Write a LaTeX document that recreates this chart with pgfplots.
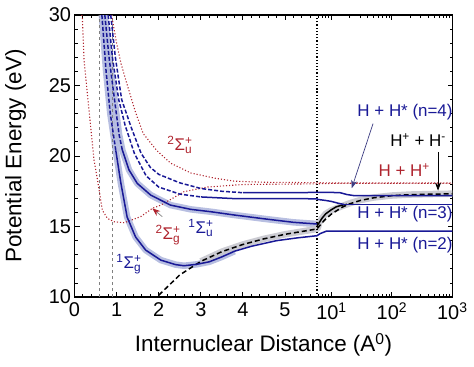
\documentclass[border=0pt]{standalone}
\usepackage{fontspec}
\setmainfont{Liberation Sans}
\usepackage{pgfplots}
\pgfplotsset{compat=1.18}
\usetikzlibrary{arrows.meta}
\definecolor{myblue}{RGB}{25,25,150}
\definecolor{myred}{RGB}{175,35,45}
\definecolor{bandc}{RGB}{176,184,222}
\definecolor{bandg}{RGB}{198,198,206}
\definecolor{arrblue}{RGB}{60,60,130}
\begin{document}
\begin{tikzpicture}
\begin{axis}[name=ax, scale only axis, width=378bp, height=282bp,
  xmin=0, xmax=8.98, ymin=10, ymax=30,
  x filter/.expression={x<5.76 ? x : 5.76+(0.6232126*ln(x)-1.0912027)},
  xtick={0,1,2,3,4,5,6.104,7.539,8.974},
  xticklabels={0,1,2,3,4,5,10\textsuperscript{1},10\textsuperscript{2},10\textsuperscript{3}},
  minor xtick={0.2,0.4,0.6,0.8,1.2,1.4,1.6,1.8,2.2,2.4,2.6,2.8,3.2,3.4,3.6,3.8,4.2,4.4,4.6,4.8,5.2,5.4,5.6,
    5.785,5.882,5.965,6.038,6.536,6.789,6.968,7.107,7.221,7.317,7.400,7.473,
    7.971,8.224,8.403,8.542,8.656,8.752,8.835,8.908},
  ytick={10,15,20,25,30},
  minor ytick={11,12,13,14,16,17,18,19,21,22,23,24,26,27,28,29},
  tick align=inside, major tick length=5bp, minor tick length=3bp,
  axis line style={line width=1.2bp}, every tick/.style={black, line width=0.9bp},
  /pgf/number format/assume math mode=true,
  tick label style={font=\fontsize{20}{22}\selectfont},
  xticklabel style={yshift=-2bp},
  xlabel={Internuclear Distance (A\textsuperscript{0})},
  ylabel={Potential Energy (eV)},
  every axis x label/.style={at={(axis description cs:0.5,0)}, anchor=center, yshift=-48bp, font=\fontsize{22.5}{24}\selectfont},
  every axis y label/.style={at={(axis description cs:0,0.5)}, xshift=-59bp, rotate=90, anchor=center, font=\fontsize{22.5}{24}\selectfont},
  clip=true,
]
% bands
\addplot[bandc, line width=6.5bp, opacity=0.9, line join=round] coordinates {(0.65,30) (0.75,26) (0.85,23) (0.98,20.4) (1.10,18.1) (1.25,15.67) (1.45,14.26) (1.69,13.33) (2.05,12.62) (2.4,12.3) (2.6,12.22) (2.9,12.32) (3.2,12.5) (3.5,12.85) (3.8,13.25)};
\addplot[bandc, line width=6.5bp, opacity=0.9, line join=round] coordinates {(0.72,30) (0.82,27) (0.95,24) (1.06,21.5) (1.135,20.43) (1.295,19.01) (1.49,18.06) (1.81,17.23) (2.28,16.52) (2.76,16.22) (3.24,16.05) (3.79,15.82) (4.5,15.55) (5.2,15.3) (5.76,15.18)};
\addplot[bandg, line width=6.5bp, opacity=0.9, line join=round] coordinates {(3.0,12.53) (3.5,13.22) (4,13.73) (4.5,14.13) (5,14.45) (5.76,14.83) (6,14.95) (6.2,15.25) (7,15.6) (8,15.9) (10,16.15) (15,16.45) (20,16.65) (30,16.88) (50,17.06) (100,17.2) (200,17.27) (500,17.31) (1000,17.33)};
% vertical guides
\addplot[gray, dashed, line width=0.8bp] coordinates {(0.6,10) (0.6,30)};
\addplot[gray, dashed, line width=0.8bp] coordinates {(0.9,10) (0.9,30)};
\addplot[black, dotted, line width=1.2bp] coordinates {(5.76,10) (5.76,30)};
% red dotted 2Sigma_g+
\addplot[myred, dotted, line width=1.1bp] coordinates {(0.17,30) (0.185,29.9) (0.226,26.8) (0.344,23.26) (0.463,19.72) (0.56,18.06) (0.66,16.17) (0.78,15.58) (0.94,15.34) (1.18,15.27) (1.57,15.7) (1.85,16.29) (2.05,16.52) (2.6,17.47) (3.15,17.8) (4,17.98) (5.76,18.03) (10,18.06) (1000,18.06)};
% red dotted 2Sigma_u+
\addplot[myred, dotted, line width=1.1bp] coordinates {(0.88,30) (1.0,28) (1.1,26.6) (1.24,25.16) (1.45,23.1) (1.63,21.6) (1.95,20.4) (2.28,19.5) (2.76,18.8) (3.31,18.44) (3.79,18.22) (4.5,18.14) (5.76,18.11) (10,18.09) (1000,18.09)};
% Coulomb H+ + H-
\addplot[black, dash pattern=on 5bp off 3bp, line width=1.5bp] coordinates {(2.0,10.13) (2.5,11.57) (3,12.53) (3.5,13.22) (4,13.73) (4.5,14.13) (5,14.45) (5.76,14.83) (6,14.93) (7,15.27) (8,15.53) (10,15.89) (15,16.37) (20,16.61) (30,16.85) (50,17.04) (100,17.19) (200,17.26) (500,17.30) (1000,17.32)};
% 1Sigma_g+
\addplot[myblue, dash pattern=on 4bp off 2bp, line width=1.5bp] coordinates {(0.65,30) (0.75,26) (0.85,23) (0.98,20.4)};
\addplot[myblue, line width=1.5bp] coordinates {(0.98,20.4) (1.10,18.1) (1.25,15.67) (1.45,14.26) (1.69,13.33) (2.05,12.62) (2.4,12.3) (2.6,12.22) (2.9,12.32) (3.2,12.5) (3.5,12.85) (3.8,13.25) (4.2,13.6) (4.8,14.0) (5.3,14.2) (5.76,14.35) (6.5,14.5) (8.3,14.68) (1000,14.68)};
% 1Sigma_u+
\addplot[myblue, dash pattern=on 4bp off 2bp, line width=1.5bp] coordinates {(0.72,30) (0.82,27) (0.95,24) (1.06,21.5) (1.135,20.43)};
\addplot[myblue, line width=1.5bp] coordinates {(1.135,20.43) (1.295,19.01) (1.49,18.06) (1.81,17.23) (2.28,16.52) (2.76,16.22) (3.24,16.05) (3.79,15.82) (4.5,15.55) (5.2,15.3) (5.76,15.18)};
\addplot[black, line width=1.5bp] coordinates {(5.76,15.05) (6.2,15.25) (7,15.6) (8,15.9) (10,16.2) (12,16.4) (15,16.52) (18,16.57)};
\addplot[myblue, line width=1.5bp] coordinates {(15,16.57) (1000,16.57)};
% curve to n=3 (upper)
\addplot[myblue, dash pattern=on 4bp off 2bp, line width=1.5bp] coordinates {(0.80,30) (0.9,27) (1.05,24) (1.2,22.2) (1.42,20.2) (1.7,18.6) (2.0,17.8) (2.5,17.3) (3.0,17.1)};
\addplot[myblue, line width=1.5bp] coordinates {(3.0,17.1) (3.8,16.98) (5.76,16.97) (6,16.92) (8,16.85) (10,16.78) (13,16.65) (16,16.57)};
% curve to n=4
\addplot[myblue, dash pattern=on 4bp off 2bp, line width=1.5bp] coordinates {(0.86,30) (0.97,27) (1.12,24) (1.35,22.0) (1.58,20.2) (1.8,19.2) (2.0,18.7) (2.5,18.1) (3.0,17.7) (3.5,17.5) (4,17.4)};
\addplot[myblue, line width=1.5bp] coordinates {(4,17.4) (5,17.4) (5.76,17.42) (10,17.42) (13.9,17.40) (18,17.27) (23,17.2) (1000,17.2)};
% arrows
\draw[arrblue, line width=0.7bp, -{Stealth[length=8bp,width=6bp]}] (axis cs:7.09,22.3) -- (axis cs:6.585,17.72);
\draw[black, line width=0.7bp, -{Stealth[length=8bp,width=6bp]}] (axis cs:8.634,20.3) -- (axis cs:8.634,17.55);
\draw[gray, line width=0.7bp, -{Stealth[length=8bp,width=6bp,color=myred]}] (axis cs:2.085,15.7) -- (axis cs:1.848,16.29);
% labels
\node[myred, font=\fontsize{17}{18}\selectfont] at (axis cs:2.50,20.78) {\textsuperscript{2}Σ\rlap{\textsuperscript{+}}\textsubscript{u}};
\node[myred, font=\fontsize{17}{18}\selectfont] at (axis cs:2.22,14.4) {\textsuperscript{2}Σ\rlap{\textsuperscript{+}}\textsubscript{g}};
\node[myblue, font=\fontsize{17}{18}\selectfont] at (axis cs:3.0,14.9) {\textsuperscript{1}Σ\rlap{\textsuperscript{+}}\textsubscript{u}};
\node[myblue, font=\fontsize{17}{18}\selectfont] at (axis cs:1.29,12.34) {\textsuperscript{1}Σ\rlap{\textsuperscript{+}}\textsubscript{g}};
\node[myblue, font=\fontsize{17}{18}\selectfont] at (axis cs:7.85,23.1) {H + H* (n=4)};
\node[black, font=\fontsize{17}{18}\selectfont] at (axis cs:8.16,21.13) {H\textsuperscript{+} + H\textsuperscript{-}};
\node[myred, font=\fontsize{17}{18}\selectfont] at (axis cs:7.83,19.0) {H + H\textsuperscript{+}};
\node[myblue, font=\fontsize{17}{18}\selectfont] at (axis cs:7.85,15.89) {H + H* (n=3)};
\node[myblue, font=\fontsize{17}{18}\selectfont] at (axis cs:7.85,13.69) {H + H* (n=2)};
\end{axis}
\pgfresetboundingbox
\path ([shift={(-74.5bp,-69bp)}]ax.south west) rectangle ([shift={(21.4bp,15bp)}]ax.north east);
\end{tikzpicture}
\end{document}
